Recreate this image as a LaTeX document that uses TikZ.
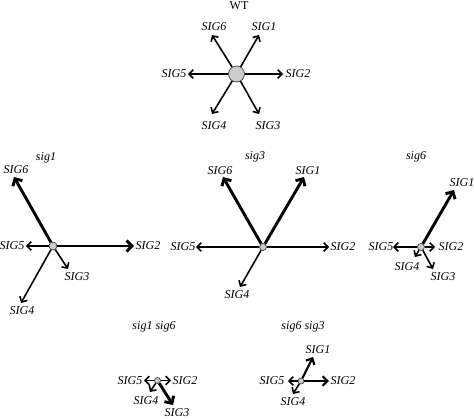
\documentclass[tikz,border=0pt]{standalone}
\usepackage{fontspec}
\setmainfont{Liberation Serif}
\usetikzlibrary{arrows.meta}
\tikzset{
  hub/.style={circle,draw=black!75,fill=black!20,line width=0.7pt,inner sep=0pt},
  lab/.style={font=\itshape\fontsize{12}{14}\selectfont,inner sep=0pt},
  ttl/.style={font=\fontsize{12}{14}\selectfont,inner sep=0pt},
  thin/.style={line width=1.6pt,-{Straight Barb[length=4.2pt,width=8.5pt]}},
  mid/.style={line width=2.2pt,-{Straight Barb[length=4.8pt,width=9.5pt]}},
  thk/.style={line width=2.9pt,-{Straight Barb[length=5.4pt,width=11pt]}}
}
% #1 hub, #2 id, #3 tip, #4 label pos, #5 text, #6 style
\newcommand\sspoke[6]{%
  \coordinate (#2t) at #3;
  \node[lab] (#2l) at #4 {#5};
  \draw[#6] (#1) -- (#2t);
}
\begin{document}
\begin{tikzpicture}[x=1pt,y=-1pt]
\useasboundingbox (0,0) rectangle (474,418);

% WT
\node[ttl] (tWT) at (239,6) {WT};
\node[hub,minimum size=16pt] (w) at (236.5,74) {};
\sspoke{w}{w1}{(259,35)}{(264,27)}{SIG1}{thin}
\sspoke{w}{w6}{(212,35)}{(214,27)}{SIG6}{thin}
\sspoke{w}{w5}{(188,74)}{(174,74)}{SIG5}{thin}
\sspoke{w}{w2}{(283,74)}{(298,74)}{SIG2}{thin}
\sspoke{w}{w4}{(212,114)}{(214,126)}{SIG4}{thin}
\sspoke{w}{w3}{(259,114)}{(268,126)}{SIG3}{thin}

% sig1
\node[lab] (ta) at (46,158) {sig1};
\node[hub,minimum size=8pt] (a) at (53,246) {};
\sspoke{a}{a6}{(14,177)}{(16,170)}{SIG6}{thk}
\sspoke{a}{a5}{(26,246)}{(12,246)}{SIG5}{thin}
\sspoke{a}{a2}{(134,246)}{(148,246)}{SIG2}{thk}
\sspoke{a}{a3}{(68,269)}{(77,277)}{SIG3}{thin}
\sspoke{a}{a4}{(21,303)}{(22,311)}{SIG4}{thin}

% sig3
\node[lab] (tb) at (255,157) {sig3};
\node[hub,minimum size=7pt] (b) at (263,247) {};
\sspoke{b}{b6}{(223,177)}{(220,171)}{SIG6}{thk}
\sspoke{b}{b1}{(304,177)}{(308,171)}{SIG1}{thk}
\sspoke{b}{b5}{(196,247)}{(183,247)}{SIG5}{thin}
\sspoke{b}{b2}{(329,247)}{(343,247)}{SIG2}{thin}
\sspoke{b}{b4}{(240,287)}{(237,295)}{SIG4}{thin}

% sig6
\node[lab] (tc) at (416,157) {sig6};
\node[hub,minimum size=7pt] (c) at (421,247) {};
\sspoke{c}{c1}{(454,190)}{(462,183)}{SIG1}{thk}
\sspoke{c}{c5}{(393,247)}{(381,247)}{SIG5}{thin}
\sspoke{c}{c2}{(435,247)}{(451,247)}{SIG2}{thin}
\sspoke{c}{c4}{(415,257)}{(407,267)}{SIG4}{thin}
\sspoke{c}{c3}{(433,269)}{(443,277)}{SIG3}{thin}

% sig1 sig6
\node[lab] (td) at (154,327) {sig1 sig6};
\node[hub,minimum size=6pt] (d) at (157.5,380.5) {};
\sspoke{d}{d5}{(144,380.5)}{(130,381)}{SIG5}{thin}
\sspoke{d}{d2}{(171,380.5)}{(185,381)}{SIG2}{thin}
\sspoke{d}{d4}{(150,392)}{(146,401)}{SIG4}{thin}
\sspoke{d}{d3}{(173,405)}{(177,413)}{SIG3}{thk}

% sig6 sig3
\node[lab] (te) at (303,327) {sig6 sig3};
\node[hub,minimum size=6pt] (e) at (301,381) {};
\sspoke{e}{e1}{(313,357)}{(318,350)}{SIG1}{mid}
\sspoke{e}{e5}{(288,381)}{(272,381)}{SIG5}{thin}
\sspoke{e}{e2}{(329,381)}{(343,381)}{SIG2}{mid}
\sspoke{e}{e4}{(293,394)}{(293,402)}{SIG4}{thin}
\end{tikzpicture}
\end{document}
